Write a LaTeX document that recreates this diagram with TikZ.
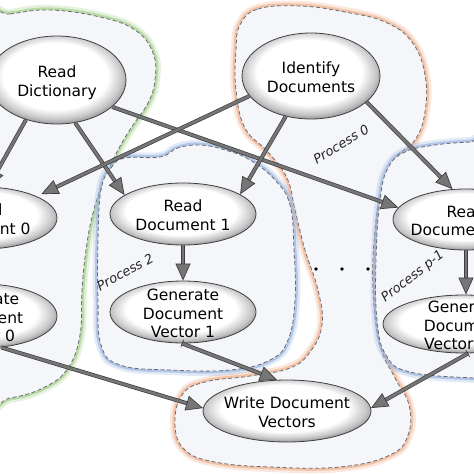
\documentclass[tikz,border=0pt]{standalone}
\usepackage{fontspec}
\setmainfont{DejaVu Sans}
\usetikzlibrary{arrows.meta,shapes.geometric}
\definecolor{blobfill}{RGB}{245,246,250}
\definecolor{dashgray}{RGB}{105,108,115}
\definecolor{glowgreen}{RGB}{150,200,120}
\definecolor{gloworange}{RGB}{238,165,125}
\definecolor{glowblue}{RGB}{140,172,222}
\definecolor{arrfill}{RGB}{118,118,118}
\definecolor{arredge}{RGB}{62,62,62}
\pgfdeclareradialshading{ellshade}{\pgfpoint{-1bp}{3.5bp}}{color(0bp)=(white); color(19bp)=(white); color(24bp)=(black!22); color(28bp)=(black!50); color(50bp)=(black!50)}
\newcommand{\etext}[1]{\raisebox{-0.45em}[0pt][0pt]{\makebox[0pt]{\begin{tabular}{@{}c@{}}#1\end{tabular}}}}
\begin{document}
\begin{tikzpicture}[x=1pt,y=-1pt,
  proc/.style={ellipse, draw=black!75, line width=0.8pt, shading=ellshade, inner sep=0pt,
    font=\fontsize{15.5}{18.5}\selectfont},
  blob/.style={preaction={draw=#1, line width=10pt, opacity=.25},
    preaction={draw=#1, line width=5pt, opacity=.55},
    preaction={fill=blobfill},
    draw=dashgray, line width=.8pt, dash pattern=on 4pt off 2.5pt},
  plabel/.style={font=\fontsize{13}{15}\selectfont\itshape, text=black!85, inner sep=0pt},
  >={Triangle[length=17pt,width=15pt,line width=0.7pt,color=arredge,fill=arrfill]},
  arr/.style={draw=arrfill, line width=2.6pt,
    preaction={draw=arredge, line width=4pt, -, shorten >=9pt}, ->},
  arrt/.style={draw=arrfill, line width=2.6pt,
    preaction={draw=arredge, line width=4pt, -, shorten >=9pt},
    {Bar[width=8pt,line width=0.6pt,color=arredge]}->},
  dot/.style={fill=black, circle, inner sep=0pt, minimum size=3.6pt}
]
\fill[white] (0,0) rectangle (474,474);
\useasboundingbox (0,0) rectangle (474,474);
\clip (0,0) rectangle (474,474);

% green blob
\path[blob=glowgreen] plot[smooth cycle, tension=.7] coordinates {
  (-30,20) (10,14) (50,10) (100,17) (135,30) (153,53) (155,80) (148,103)
  (133,125) (118,150) (104,180) (93,213) (86,250) (82,290) (80,335)
  (68,368) (45,387) (10,398) (-30,400) (-40,200)};
% orange blob
\path[blob=gloworange] plot[smooth cycle, tension=.7] coordinates {
  (240,25) (258,9) (300,6) (345,12) (385,22) (412,42) (425,75) (425,112)
  (415,140) (395,158) (383,185) (375,230) (373,290) (380,345) (395,378)
  (409,405) (408,435) (390,455) (340,467) (270,467) (215,462) (185,450)
  (175,425) (182,395) (205,382) (250,376) (290,368) (310,352) (322,325)
  (318,290) (305,250) (295,210) (287,178) (268,152) (245,128) (236,90) (236,50)};
% blue blob, process 2
\path[blob=glowblue] plot[smooth cycle, tension=.7] coordinates {
  (101,190) (111,168) (125,158) (160,157) (178,148) (200,145) (225,150)
  (250,160) (275,180) (290,205) (294,250) (295,300) (288,340) (270,360)
  (230,370) (170,370) (120,365) (101,345) (98,300) (98,240)};
% blue blob, process p-1
\path[blob=glowblue] plot[smooth cycle, tension=.7] coordinates {
  (510,140) (470,142) (435,145) (405,152) (388,168) (380,200) (376,260)
  (377,320) (386,355) (410,372) (474,378) (510,378)};

\node[dot] (d1) at (316,269) {};
\node[dot] (d2) at (342,269) {};
\node[dot] (d3) at (368,269) {};

\node[plabel, rotate=31] (p0) at (341,144) {Process 0};
\node[plabel, rotate=29] (p2) at (125,272) {Process 2};
\node[plabel, rotate=38] (pp) at (413,277) {Process p-1};

\node[proc, minimum width=138, minimum height=88] (rd) at (57,80) {\etext{Read\\Dictionary}};
\node[proc, minimum width=138, minimum height=86] (id) at (311,76) {\etext{Identify\\Documents}};
\node[proc, minimum width=148, minimum height=62] (rd0) at (-17,218) {\etext{Read\\Document 0}};
\node[proc, minimum width=148, minimum height=64] (gv0) at (-17,316) {\etext{Generate\\Document\\Vector 0}};
\node[proc, minimum width=146, minimum height=62] (rd1) at (183,214) {\etext{Read\\Document 1}};
\node[proc, minimum width=146, minimum height=62] (gv1) at (183,312) {\etext{Generate\\Document\\Vector 1}};
\node[proc, minimum width=146, minimum height=61] (rdp) at (466,219.5) {\etext{Read\\Document p-1}};
\node[proc, minimum width=162, minimum height=58] (gvp) at (464,324) {\etext{Generate\\Document\\Vector p-1}};
\node[proc, minimum width=168, minimum height=62] (wdv) at (287,411) {\etext{Write Document\\Vectors}};

\draw[arr] (rd.-128) -- (rd0.80);
\draw[arr] (rd.-67) -- (rd1.162);
\draw[arr] (rd.-26) -- (rdp.170);
\draw[arr, shorten >=5pt] (id.-162) -- (rd0.22);
\draw[arr] (id.-122) -- (rd1.19);
\draw[arr] (id.-25) -- (rdp.114);
\draw[arr] (rd1.south) -- (gv1.north);
\draw[arr] (rdp.south) -- (rdp.south |- gvp.north);
\draw[arrt] (gv1.-92) -- (wdv.108);
\draw[arr] (gv0.-60) -- (wdv.178);
\draw[arrt] (gvp.-82) -- (wdv.2);
\end{tikzpicture}
\end{document}
